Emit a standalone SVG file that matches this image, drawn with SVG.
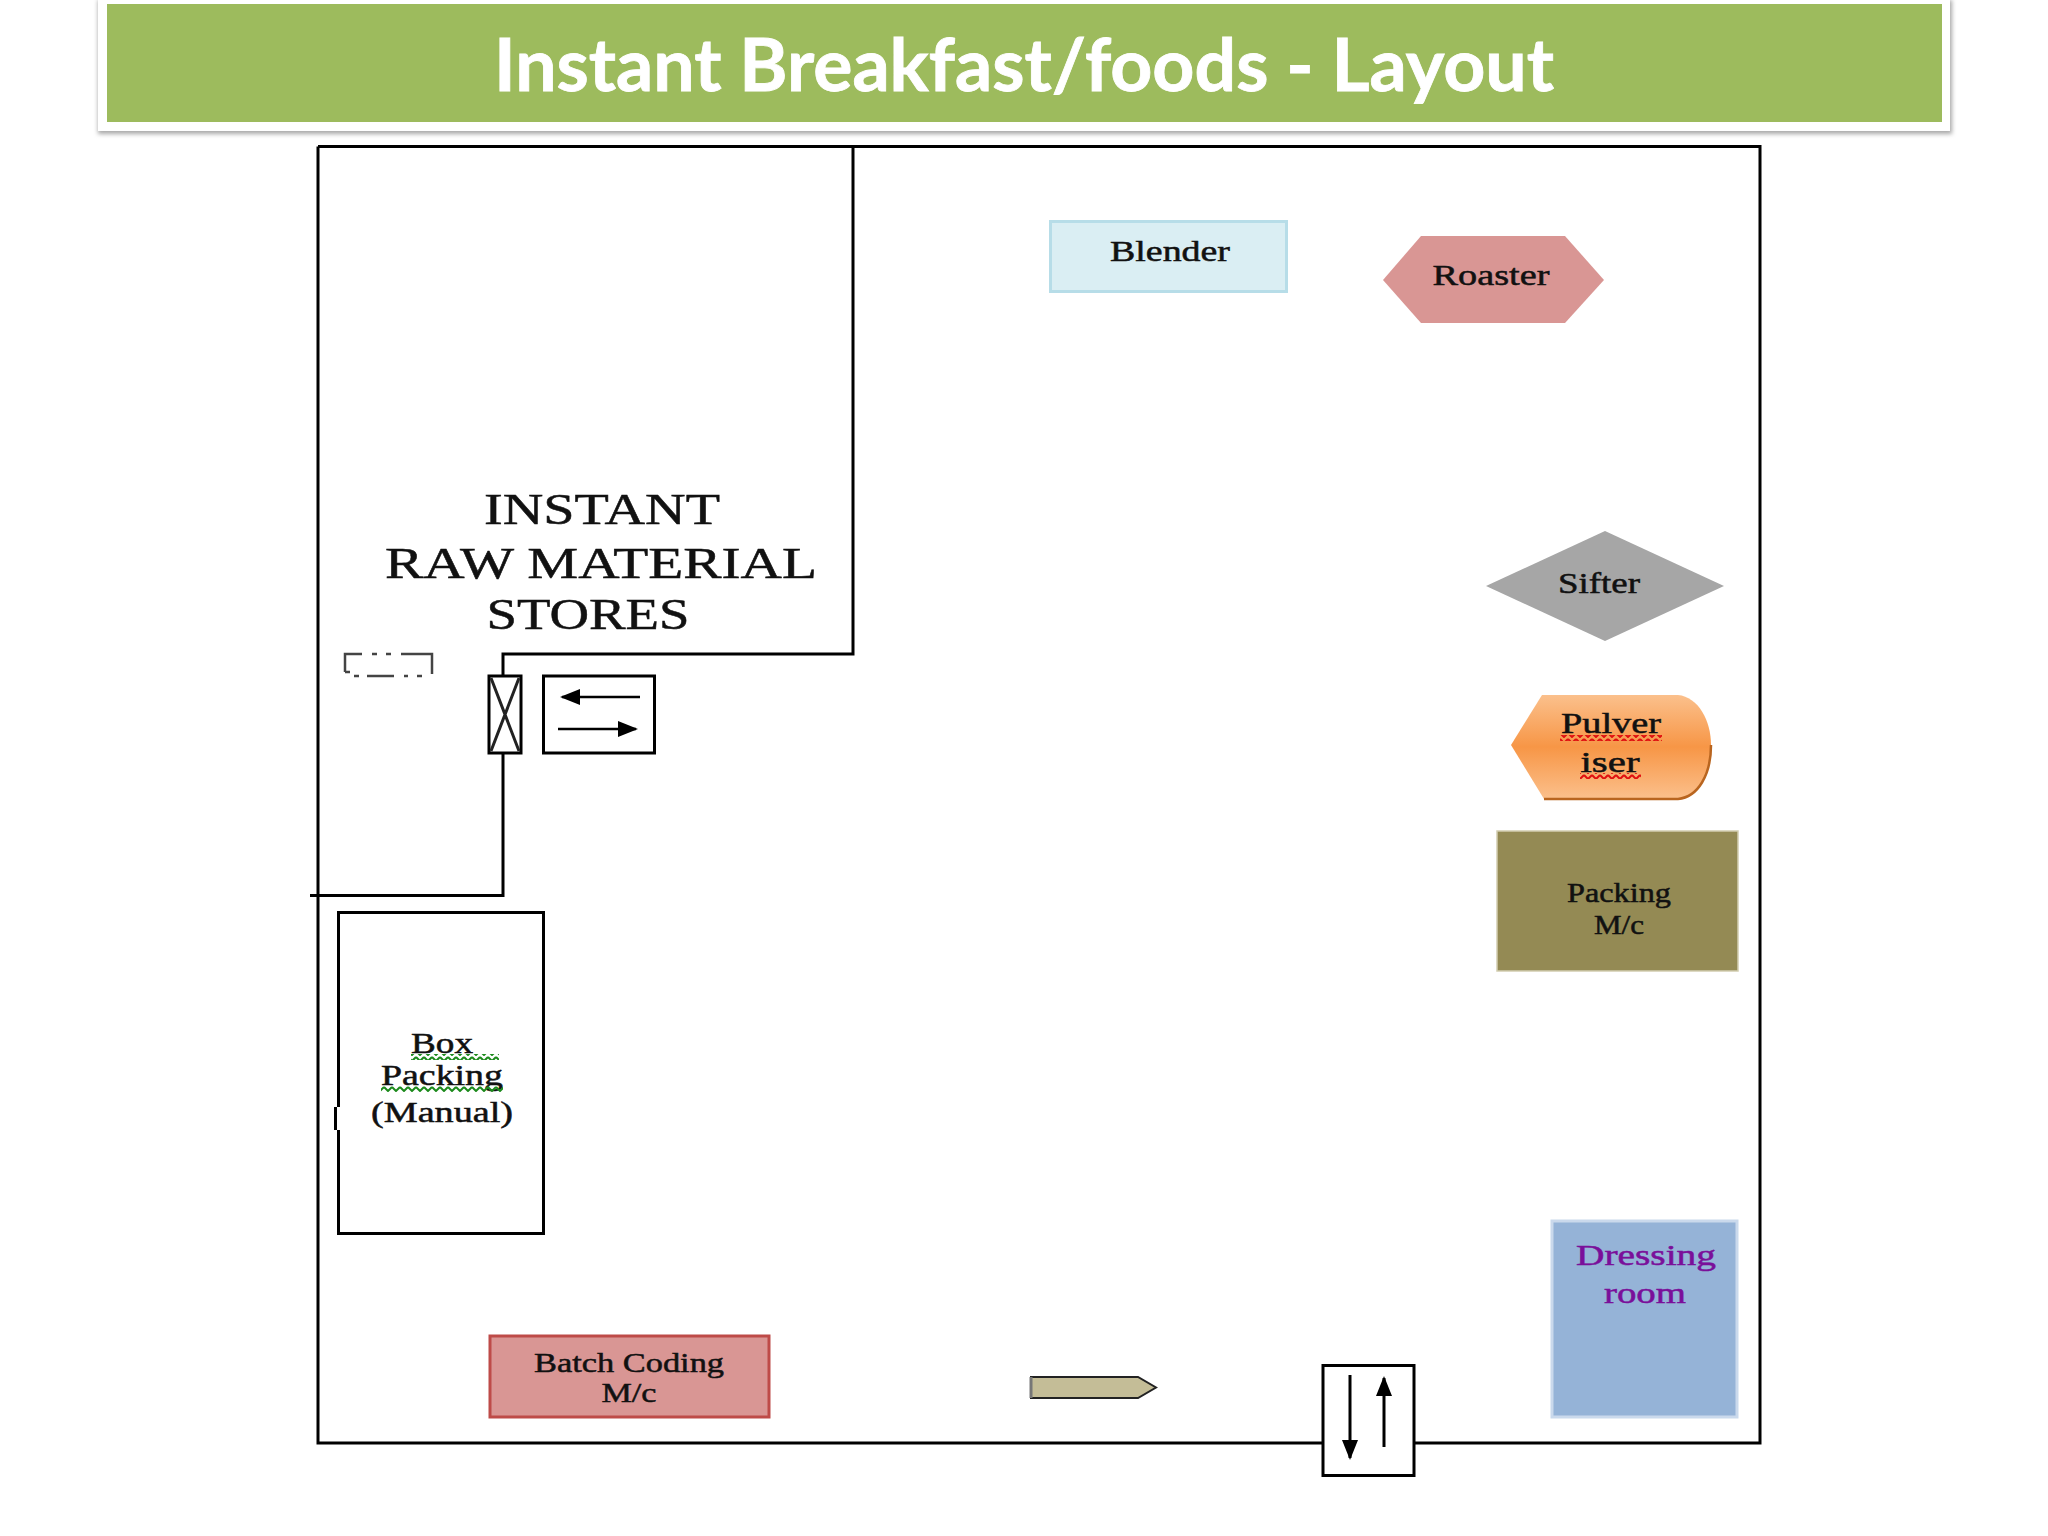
<svg xmlns="http://www.w3.org/2000/svg" width="2048" height="1536" viewBox="0 0 2048 1536">
<style>
.t{font-family:"Liberation Serif","Times New Roman",serif;fill:#111;text-anchor:middle;stroke:#111;stroke-width:.5px}
.s{font-size:29px}
.l{font-size:45px}
.w{fill:none;stroke:#000;stroke-width:3}
.k{fill:none;stroke:#000;stroke-width:2.5}
</style>
<defs>
<marker id="ah" markerUnits="userSpaceOnUse" markerWidth="20" markerHeight="16" refX="18" refY="8" orient="auto"><path d="M0 0L20 8L0 16Z" fill="#000"/></marker>
<pattern id="zr" patternUnits="userSpaceOnUse" width="8" height="6" x="0" y="0"><path d="M0 1L4 5L8 1" fill="none" stroke="#e01010" stroke-width="2"/></pattern>
<pattern id="zg" patternUnits="userSpaceOnUse" width="8" height="6" x="0" y="0"><path d="M0 1L4 5L8 1" fill="none" stroke="#1c8a1c" stroke-width="2"/></pattern>
<linearGradient id="og" x1="0" y1="0" x2="0" y2="1"><stop offset="0" stop-color="#fbc08c"/><stop offset=".5" stop-color="#f79646"/><stop offset="1" stop-color="#fbc08c"/></linearGradient>
<filter id="soft" x="-2%" y="-20%" width="104%" height="140%"><feGaussianBlur stdDeviation="2"/></filter>
</defs>
<rect width="2048" height="1536" fill="#fff"/>

<g id="title">
<rect x="98" y="0" width="1854" height="134" fill="#a8a8a8" filter="url(#soft)"/>
<rect x="98" y="0" width="1852" height="131" fill="#fff"/>
<rect x="107" y="4" width="1835" height="118" fill="#9dbb5d"/>
<text x="1024" y="91" font-family="Lato,'Open Sans',sans-serif" font-weight="700" font-size="73" fill="#fff" stroke="#fff" stroke-width=".8" text-anchor="middle" textLength="1060" lengthAdjust="spacingAndGlyphs">Instant Breakfast/foods - Layout</text>
</g>

<g id="connectors">
<path class="w" d="M318 146.500H1760V1443H1414M1323 1443H318V146.500"/>
<path class="w" d="M853 146.500V654H503V676M503 753V895.500H310"/>
<path d="M345 672V654H362M372 654H377M386 654H391M401 654H432V674M345 672H350M354 676H359M367 676H394M404 676H408M417 676H422" fill="none" stroke="#444" stroke-width="2.500"/>
</g>

<g id="raw-material-stores">
<text class="t l" x="602" y="524" textLength="236" lengthAdjust="spacingAndGlyphs">INSTANT</text>
<text class="t l" x="601" y="578" textLength="432" lengthAdjust="spacingAndGlyphs">RAW MATERIAL</text>
<text class="t l" x="588" y="629" textLength="203" lengthAdjust="spacingAndGlyphs">STORES</text>
</g>

<g id="door">
<rect x="489" y="676" width="32" height="77" fill="#fff" stroke="#000" stroke-width="3"/>
<path d="M491 678L519 751M519 678L491 751" fill="none" stroke="#222" stroke-width="3"/>
</g>

<g id="flow-box">
<rect x="543.500" y="676" width="111" height="77" fill="#fff" stroke="#000" stroke-width="3"/>
<path class="k" d="M640 697H562" marker-end="url(#ah)"/>
<path class="k" d="M558 729H636" marker-end="url(#ah)"/>
</g>

<g id="blender">
<rect x="1050.500" y="221.500" width="236" height="70" fill="#daeef3" stroke="#b7dde8" stroke-width="3"/>
<text class="t s" x="1170" y="261" textLength="120" lengthAdjust="spacingAndGlyphs">Blender</text>
</g>

<g id="roaster">
<path d="M1383 280L1421 236H1565L1604 280L1565 323H1421Z" fill="#d99694"/>
<text class="t s" x="1491" y="285" textLength="117" lengthAdjust="spacingAndGlyphs">Roaster</text>
</g>

<g id="sifter">
<path d="M1486 586L1605 531L1724 586L1605 641Z" fill="#a6a6a6"/>
<text class="t s" x="1599" y="593" textLength="82" lengthAdjust="spacingAndGlyphs">Sifter</text>
</g>

<g id="pulveriser">
<path d="M1511 745L1542 695H1678C1698 697 1711 720 1711 745C1711 775 1698 797 1678 799H1544Z" fill="url(#og)"/>
<path d="M1544 799H1678C1698 797 1711 775 1711 745" fill="none" stroke="#b9651f" stroke-width="2.500"/>
<text class="t s" x="1611" y="733" textLength="100" lengthAdjust="spacingAndGlyphs">Pulver</text>
<text class="t s" x="1610" y="772" textLength="59" lengthAdjust="spacingAndGlyphs">iser</text>
<rect x="1560" y="735" width="102" height="6" fill="url(#zr)"/>
<rect x="1580" y="773" width="61" height="6" fill="url(#zr)"/>
</g>

<g id="packing-mc">
<rect x="1497" y="831" width="241" height="140" fill="#948a54" stroke="#d2cdb0" stroke-width="1.500"/>
<text class="t" font-size="27" x="1619" y="902" textLength="104" lengthAdjust="spacingAndGlyphs">Packing</text>
<text class="t" font-size="27" x="1619" y="934" textLength="50" lengthAdjust="spacingAndGlyphs">M/c</text>
</g>

<g id="box-packing">
<rect x="338.500" y="912.500" width="205" height="321" fill="#fff" stroke="#000" stroke-width="3"/>
<path d="M336 1107V1130" stroke="#000" stroke-width="4"/>
<path d="M338.500 1107V1130" stroke="#fff" stroke-width="3"/>
<text class="t s" x="442" y="1053" textLength="62" lengthAdjust="spacingAndGlyphs">Box</text>
<text class="t s" x="442" y="1085" textLength="122" lengthAdjust="spacingAndGlyphs">Packing</text>
<text class="t s" x="442" y="1122" textLength="142" lengthAdjust="spacingAndGlyphs">(Manual)</text>
<rect x="411" y="1054" width="88" height="6" fill="url(#zg)"/>
<rect x="381" y="1086" width="122" height="6" fill="url(#zg)"/>
</g>

<g id="batch-coding">
<rect x="490" y="1336" width="279" height="81" fill="#d99694" stroke="#be4b48" stroke-width="3"/>
<text class="t" font-size="28" x="629" y="1372" textLength="190" lengthAdjust="spacingAndGlyphs">Batch Coding</text>
<text class="t" font-size="28" x="629" y="1402" textLength="55" lengthAdjust="spacingAndGlyphs">M/c</text>
</g>

<g id="pencil">
<path d="M1031 1377H1138L1156 1387.500L1138 1398H1031Z" fill="#c4bd97" stroke="#222" stroke-width="2"/>
<path d="M1031 1377V1398" stroke="#777" stroke-width="3"/>
</g>

<g id="exit-door">
<rect x="1323" y="1365.500" width="91" height="110" fill="#fff" stroke="#000" stroke-width="3"/>
<path class="w" d="M1350 1375V1458" marker-end="url(#ah)"/>
<path class="w" d="M1384 1447V1378" marker-end="url(#ah)"/>
</g>

<g id="dressing-room">
<rect x="1552" y="1221" width="185" height="196" fill="#95b3d7" stroke="#cad9ec" stroke-width="3"/>
<text class="t s" style="fill:#7a0f9a;stroke:#7a0f9a" x="1646" y="1265" textLength="140" lengthAdjust="spacingAndGlyphs">Dressing</text>
<text class="t s" style="fill:#7a0f9a;stroke:#7a0f9a" x="1645" y="1303" textLength="82" lengthAdjust="spacingAndGlyphs">room</text>
</g>
</svg>
